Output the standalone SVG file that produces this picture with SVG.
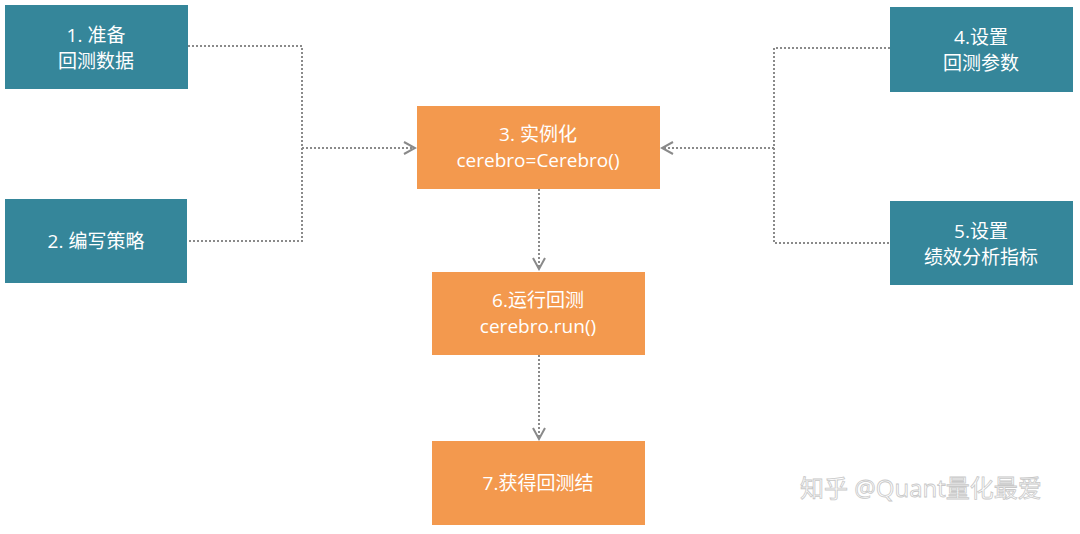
<svg xmlns="http://www.w3.org/2000/svg" width="1080" height="534" viewBox="0 0 1080 534">
<style>
.t{fill:#35869a}.o{fill:#f3994e}
text{font-family:"Open Sans","Noto Sans CJK SC",sans-serif;font-size:19px;fill:#fff;text-anchor:middle}
.c{fill:none;stroke:#8a8a8a;stroke-width:2;stroke-dasharray:2 2}
.wm{fill:#fff;stroke:#c8c8c8;stroke-width:0.8;font-size:24px;text-anchor:start}
</style>
<defs><marker id="a" markerWidth="14" markerHeight="14" refX="12" refY="7" orient="auto" markerUnits="userSpaceOnUse"><path d="M1 1 L12 7 L1 13" fill="none" stroke="#8a8a8a" stroke-width="2"/></marker></defs>
<rect width="1080" height="534" fill="#fff"/>
<g id="connectors">
<path class="c" d="M188 46 H302 V241 H187"/>
<path class="c" d="M302 148 H415" marker-end="url(#a)"/>
<path class="c" d="M890 48 H774 V243 H890"/>
<path class="c" d="M774 148 H662" marker-end="url(#a)"/>
<path class="c" d="M539 189 V269" marker-end="url(#a)"/>
<path class="c" d="M539 355 V439" marker-end="url(#a)"/>
</g>
<g id="n1"><rect class="t" x="5" y="5" width="183" height="84"/><text x="96" y="42">1. 准备</text><text x="96" y="68">回测数据</text></g>
<g id="n2"><rect class="t" x="5" y="199" width="182" height="84"/><text x="96" y="248">2. 编写策略</text></g>
<g id="n3"><rect class="o" x="417" y="106" width="243" height="83"/><text x="538" y="141">3. 实例化</text><text x="538" y="167">cerebro=Cerebro()</text></g>
<g id="n4"><rect class="t" x="890" y="7" width="183" height="85"/><text x="981" y="44">4.设置</text><text x="981" y="70">回测参数</text></g>
<g id="n5"><rect class="t" x="890" y="201" width="183" height="84"/><text x="981" y="238">5.设置</text><text x="981" y="264">绩效分析指标</text></g>
<g id="n6"><rect class="o" x="432" y="272" width="213" height="83"/><text x="538" y="307">6.运行回测</text><text x="538" y="333">cerebro.run()</text></g>
<g id="n7"><rect class="o" x="432" y="441" width="213" height="84"/><text x="538" y="490">7.获得回测结</text></g>
<text class="wm" x="800" y="497">知乎 @Quant量化最爱</text>
</svg>
